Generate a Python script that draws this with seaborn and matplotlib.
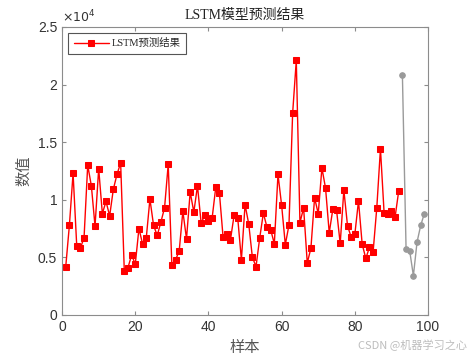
import numpy as np
import pandas as pd
import matplotlib
matplotlib.use('Agg')
import matplotlib.pyplot as plt
import seaborn as sns
from matplotlib.ticker import FuncFormatter

# LSTM predictions (samples 1-92)
pred_vals = [4200, 7800, 12300, 6000, 5800, 6700, 13000, 11200, 7700, 12700,
             8800, 9850, 8600, 10900, 12200, 13200, 3800, 4100, 5200, 4400,
             7500, 6150, 6670, 10060, 7770, 6900, 8060, 9300, 13070, 4300,
             4780, 5540, 9000, 6600, 10670, 8930, 11200, 7970, 8670, 8170,
             8400, 11100, 10550, 6720, 7000, 6500, 8640, 8400, 4780, 9570,
             7900, 5000, 4200, 6670, 8840, 7600, 7400, 6170, 12200, 9500,
             6100, 7800, 17500, 22100, 8000, 9300, 4500, 5800, 10170, 8780,
             12760, 11000, 7130, 9200, 9100, 6200, 10840, 7740, 6750, 7000,
             9900, 6150, 4900, 5880, 5500, 9300, 14430, 8840, 8750, 9040,
             8500, 10780]
pred_x = list(range(1, 93))

# trailing grey series (samples 93-99)
tail_x = [93, 94, 95, 96, 97, 98, 99]
tail_vals = [20800, 5740, 5540, 3400, 6320, 7770, 8800]

pred = pd.DataFrame({'sample': pred_x, 'value': pred_vals})
tail = pd.DataFrame({'sample': tail_x, 'value': tail_vals})

sns.set_style('ticks')
plt.rcParams['font.family'] = ['Liberation Sans', 'Noto Sans CJK SC']

fig, ax = plt.subplots(figsize=(4.74, 3.55), dpi=100)
fig.subplots_adjust(left=0.131, right=0.903, top=0.924, bottom=0.113)

sns.lineplot(x='sample', y='value', data=pred, ax=ax, color='#ff0000',
             marker='s', markersize=4.8, markeredgecolor='#ff0000',
             linewidth=1.0, label='LSTM预测结果')
sns.lineplot(x='sample', y='value', data=tail, ax=ax, color='#9a9a9a',
             marker='o', markersize=4, markeredgecolor='#9a9a9a',
             linewidth=1.0, legend=False)

ax.set_xlim(0, 100)
ax.set_ylim(0, 25000)
ax.set_xticks([0, 20, 40, 60, 80, 100])
ax.set_yticks([0, 5000, 10000, 15000, 20000, 25000])
ax.yaxis.set_major_formatter(FuncFormatter(lambda v, p: f'{v/1e4:g}'))

for s in ax.spines.values():
    s.set_visible(True)
    s.set_color('#8c8c8c')
    s.set_linewidth(0.8)
ax.tick_params(direction='in', top=True, right=True, length=3,
               color='#8c8c8c', labelcolor='#333333', labelsize=10)

ax.text(0, 1.005, r'$\times10^{4}$', transform=ax.transAxes, ha='left',
        va='bottom', fontsize=9, color='#333333')

ax.set_title('LSTM模型预测结果', family=['Liberation Serif', 'Noto Sans CJK SC'],
             fontsize=10, color='#222222', pad=6)
ax.set_xlabel('样本', family=['Noto Sans CJK SC'], fontsize=11, color='#555555')
ax.set_ylabel('数值', family=['Noto Sans CJK SC'], fontsize=11, color='#555555')

leg = ax.legend(loc='upper left', fancybox=False, edgecolor='#555555',
                prop={'family': ['Liberation Serif', 'Noto Sans CJK SC'], 'size': 7.5},
                handlelength=3.4, handletextpad=0.3, borderpad=0.5,
                borderaxespad=0.6, framealpha=1)
leg.get_frame().set_linewidth(0.8)

fig.text(0.985, 0.012, 'CSDN @机器学习之心', ha='right', va='bottom',
         fontsize=8, color='#bdbdbd', family=['Noto Sans CJK SC', 'DejaVu Sans'])

plt.savefig('out.png', dpi=100)
